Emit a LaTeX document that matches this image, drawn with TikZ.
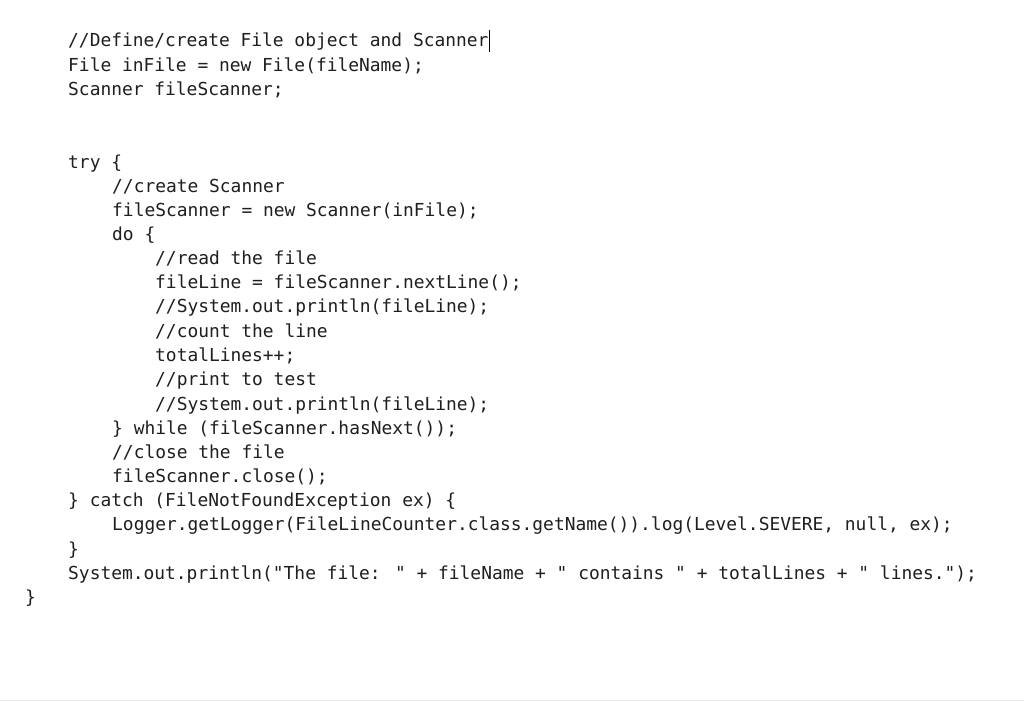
\documentclass[tikz,border=0pt]{standalone}
\usepackage{fontspec}
\newfontfamily\code{DejaVu Sans Mono}
\begin{document}
\begin{tikzpicture}[x=1pt,y=-1pt,
  ln/.style={anchor=base west,inner sep=0pt,font=\code\fontsize{17.9}{20}\selectfont,text=black!88}]
\useasboundingbox[fill=white] (0,0) rectangle (1024,701);
\draw[black!8,line width=1pt] (0,700) -- (1024,700);
\def\a{68}\def\b{112}\def\c{155}
\node[ln] (l1) at (\a,47) {//Define/create File object and Scanner};
\draw[black,line width=1pt] (489.5,30) -- (489.5,52);
\node[ln] (l2) at (\a,71) {File inFile = new File(fileName);};
\node[ln] (l3) at (\a,95) {Scanner fileScanner;};
\node[ln] (l4) at (\a,168) {try \{};
\node[ln] (l5) at (\b,192) {//create Scanner};
\node[ln] (l6) at (\b,216) {fileScanner = new Scanner(inFile);};
\node[ln] (l7) at (\b,240) {do \{};
\node[ln] (l8) at (\c,264) {//read the file};
\node[ln] (l9) at (\c,288) {fileLine = fileScanner.nextLine();};
\node[ln] (l10) at (\c,312) {//System.out.println(fileLine);};
\node[ln] (l11) at (\c,337) {//count the line};
\node[ln] (l12) at (\c,361) {totalLines++;};
\node[ln] (l13) at (\c,385) {//print to test};
\node[ln] (l14) at (\c,410) {//System.out.println(fileLine);};
\node[ln] (l15) at (\b,434) {\} while (fileScanner.hasNext());};
\node[ln] (l16) at (\b,458) {//close the file};
\node[ln] (l17) at (\b,482) {fileScanner.close();};
\node[ln] (l18) at (\a,506) {\} catch (FileNotFoundException ex) \{};
\node[ln] (l19) at (\b,530) {Logger.getLogger(FileLineCounter.class.getName()).log(Level.SEVERE, null, ex);};
\node[ln] (l20) at (\a,555) {\}};
\node[ln] (l21) at (\a,579) {System.out.println("The file: " + fileName + " contains " + totalLines + " lines.");};
\node[ln] (l22) at (25,603) {\}};
\end{tikzpicture}
\end{document}
